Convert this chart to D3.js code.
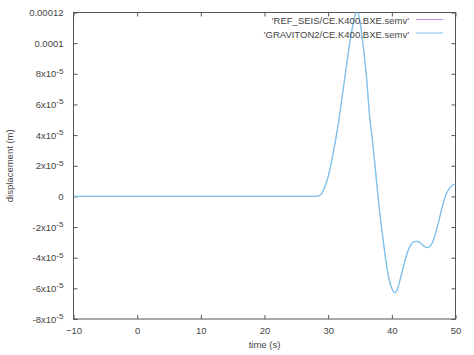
<!DOCTYPE html>
<html>
<head>
<meta charset="utf-8">
<script src="https://cdn.jsdelivr.net/npm/d3@7"></script>
<style>
  html, body { margin: 0; padding: 0; background: #fff; }
  svg { display: block; font-family: "Liberation Sans", Arial, sans-serif; }
</style>
</head>
<body>
<div id="chart"></div>
<script>
// time axis (s) and displacement (m)
const times = [-10, 0, 10, 20, 27, 28, 28.5, 29, 29.5, 30, 30.5, 31, 31.5, 32, 32.5, 33, 33.5, 34, 34.5,
  35, 35.5, 36, 36.5, 37, 37.5, 38, 38.5, 39, 39.5, 40, 40.5, 41, 41.5, 42, 42.5, 43, 43.5, 44, 44.5,
  45, 45.5, 46, 46.5, 47, 47.5, 48, 48.5, 49, 49.5, 50];
const displacement = [0, 0, 0, 0, 0, 0, 0.3e-6, 2e-6, 6.5e-6, 13e-6, 22e-6, 33e-6, 45e-6, 59e-6, 74e-6, 89e-6, 103e-6, 114e-6, 121e-6,
  114e-6, 98e-6, 79e-6, 53e-6, 35e-6, 14e-6, -7e-6, -24e-6, -40e-6, -53e-6, -60e-6, -63e-6, -59e-6, -51e-6, -43e-6, -36e-6, -31.5e-6, -29.5e-6, -29.3e-6, -30.5e-6,
  -32.3e-6, -33.4e-6, -32.5e-6, -29e-6, -22e-6, -14e-6, -5.5e-6, 1e-6, 5e-6, 7.3e-6, 8.2e-6];
const xTicks = [-10, 0, 10, 20, 30, 40, 50];
const yTicks = [-8e-5, -6e-5, -4e-5, -2e-5, 0, 2e-5, 4e-5, 6e-5, 8e-5, 1e-4, 1.2e-4];
const yTickLabels = ["-8x10|-5", "-6x10|-5", "-4x10|-5", "-2x10|-5", "0", "2x10|-5", "4x10|-5", "6x10|-5", "8x10|-5", "0.0001", "0.00012"];
const seriesNames = ["'REF_SEIS/CE.K400.BXE.semv'", "'GRAVITON2/CE.K400.BXE.semv'"];
const seriesColors = ["#c58ee6", "#7cc4ec"];
const seriesWidths = [0.6, 1.3];

const width = 474, height = 355;
const margin = { top: 12.5, right: 18.5, bottom: 36, left: 73.5 };
const innerW = width - margin.left - margin.right;
const innerH = height - margin.top - margin.bottom;

const svg = d3.select('#chart').append('svg')
    .attr('width', width)
    .attr('height', height);

const x = d3.scaleLinear().domain([-10, 50]).range([margin.left, margin.left + innerW]);
const y = d3.scaleLinear().domain([-8e-5, 1.2e-4]).range([margin.top + innerH, margin.top]);

svg.append('defs').append('clipPath').attr('id', 'plot-clip')
    .append('rect')
    .attr('x', margin.left).attr('y', margin.top)
    .attr('width', innerW).attr('height', innerH);

const axisColor = '#555';
const textColor = '#444';
const fontSize = 9.5;

// bottom / top axes with inward ticks
const xBottom = svg.append('g')
    .attr('transform', `translate(0,${margin.top + innerH})`)
    .call(d3.axisBottom(x).tickValues(xTicks).tickSizeInner(-4).tickSizeOuter(0).tickPadding(8).tickFormat(d3.format('d')));
const xTop = svg.append('g')
    .attr('transform', `translate(0,${margin.top})`)
    .call(d3.axisTop(x).tickValues(xTicks).tickSizeInner(-4).tickSizeOuter(0).tickFormat(''));

const yLeft = svg.append('g')
    .attr('transform', `translate(${margin.left},0)`)
    .call(d3.axisLeft(y).tickValues(yTicks).tickSizeInner(-4).tickSizeOuter(0).tickPadding(10)
        .tickFormat((d, i) => yTickLabels[i]));
const yRight = svg.append('g')
    .attr('transform', `translate(${margin.left + innerW},0)`)
    .call(d3.axisRight(y).tickValues(yTicks).tickSizeInner(-4).tickSizeOuter(0).tickFormat(''));

[xBottom, xTop, yLeft, yRight].forEach(g => {
    g.select('.domain').remove();
    g.selectAll('line').attr('stroke', axisColor);
    g.selectAll('text')
        .attr('font-family', '"Liberation Sans", Arial, sans-serif')
        .attr('font-size', fontSize)
        .attr('fill', textColor);
});

// superscript exponent labels
yLeft.selectAll('text').each(function() {
    const el = d3.select(this);
    const parts = el.text().split('|');
    if (parts.length < 2) return;
    el.text('');
    el.append('tspan').text(parts[0]);
    el.append('tspan').attr('dy', '-0.45em').attr('font-size', fontSize * 0.85).text(parts[1]);
});

svg.append('rect')
    .attr('x', margin.left).attr('y', margin.top)
    .attr('width', innerW).attr('height', innerH)
    .attr('fill', 'none')
    .attr('stroke', axisColor)
    .attr('stroke-width', 1);

const points = times.map((t, i) => ({ t, v: displacement[i] }));
const line = d3.line()
    .x(d => x(d.t))
    .y(d => y(d.v))
    .curve(d3.curveMonotoneX);

// both files hold the same trace; the second one is drawn on top and hides the first
seriesColors.forEach((c, i) => {
    svg.append('path')
        .datum(points)
        .attr('clip-path', 'url(#plot-clip)')
        .attr('d', line)
        .attr('fill', 'none')
        .attr('stroke', c)
        .attr('stroke-width', seriesWidths[i]);
});

// legend
const legend = svg.append('g');
seriesNames.forEach((name, i) => {
    const ly = 21 + i * 13.5;
    legend.append('text')
        .attr('x', 409)
        .attr('y', ly)
        .attr('dy', '0.35em')
        .attr('text-anchor', 'end')
        .attr('font-size', fontSize)
        .attr('fill', textColor)
        .text(name);
    legend.append('line')
        .attr('x1', 416).attr('x2', 443)
        .attr('y1', ly - 1.5).attr('y2', ly - 1.5)
        .attr('stroke', seriesColors[i])
        .attr('stroke-width', 1);
});

// axis titles
svg.append('text')
    .attr('x', margin.left + innerW / 2)
    .attr('y', 345)
    .attr('dy', '0.35em')
    .attr('text-anchor', 'middle')
    .attr('font-size', fontSize)
    .attr('fill', textColor)
    .text('time (s)');

svg.append('text')
    .attr('transform', `translate(10,${margin.top + innerH / 2}) rotate(-90)`)
    .attr('dy', '0.35em')
    .attr('text-anchor', 'middle')
    .attr('font-size', fontSize)
    .attr('fill', textColor)
    .text('displacement (m)');
</script>
</body>
</html>
